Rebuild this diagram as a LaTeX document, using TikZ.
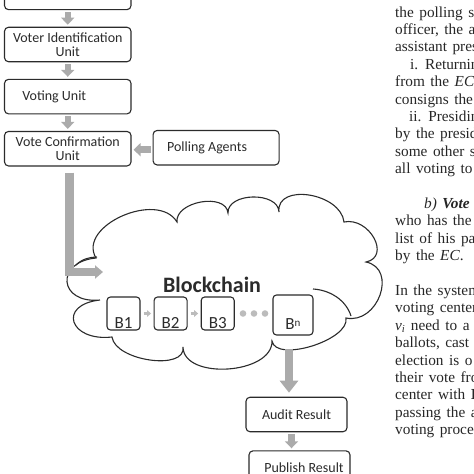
\documentclass[tikz,border=0pt]{standalone}
\usepackage{fontspec}
\setmainfont{Liberation Serif}
\newfontfamily\calibri{Carlito}
\usetikzlibrary{positioning, arrows.meta}

\definecolor{flowgray}{HTML}{ABABAB}
\definecolor{inkgray}{HTML}{2B2B2B}
\newcommand{\widespaces}{\spaceskip=0.36em plus 0.1em\relax}

\begin{document}
\begin{tikzpicture}[x=1pt, y=-1pt, node distance=16.5pt,
    unitbox/.style={draw=inkgray, line width=1.1pt, rounded corners=4pt, fill=white,
        minimum width=126.5pt, minimum height=34.5pt, inner sep=0pt, align=center,
        font=\calibri\fontsize{14}{13.5}\selectfont, text=inkgray},
    blockbox/.style={draw=inkgray, line width=1.1pt, rounded corners=3.5pt, fill=white,
        minimum size=33pt, inner sep=0pt, text height=29pt, text depth=0pt,
        font=\calibri\fontsize{17}{17}\selectfont, text=inkgray},
    flow/.style={draw=flowgray, line width=6.5pt, shorten <=2pt, shorten >=2pt,
        -{Triangle[length=7pt, width=13pt]}},
    bigflow/.style={draw=flowgray, line width=8.5pt, line join=miter},
    chainlink/.style={draw=flowgray!80, line width=2.5pt, shorten <=3pt, shorten >=2.5pt,
        -{Triangle[length=4pt, width=6.5pt]}},
    papertext/.style={anchor=base west, inner sep=0pt, text=black!85,
        font=\fontsize{15.3}{15.3}\selectfont\widespaces}]

    \useasboundingbox (0,0) rectangle (474,474);
    \clip (0,0) rectangle (474,474);

    % left column
    \node[unitbox]                           (voterid) at (67.75,44.5) {Voter Identification\\Unit};
    \node[unitbox, above=of voterid]         (entry)   {};
    \node[unitbox, below=of voterid]         (voting)  {Voting Unit\kern27pt};
    \node[unitbox, below=of voting]          (confirm) {Vote Confirmation\\Unit};
    \node[unitbox, minimum width=126pt, right=21pt of confirm, yshift=1pt] (agents) {Polling Agents\kern18pt};

    \draw[flow] (entry) -- (voterid);
    \draw[flow] (voterid) -- (voting);
    \draw[flow] (voting) -- (confirm);
    \draw[flow] ([yshift=-2pt]agents.west) -- ([yshift=-2pt]agents.west -| confirm.east);

    % cloud
    \draw[inkgray, line width=1.1pt, fill=white]
        (96,258) .. controls (76.7,226) and (157.7,190) .. (177,222)
        .. controls (175,201.3) and (226,192.3) .. (228,213)
        .. controls (227.3,192.3) and (278.3,191.3) .. (279,212)
        .. controls (275.7,182.7) and (340.7,192.7) .. (344,222)
        .. controls (369.3,216.7) and (391.3,256.7) .. (366,262)
        .. controls (398,268.7) and (378,324.7) .. (346,318)
        .. controls (350,340) and (276,363) .. (272,341)
        .. controls (272.7,374.3) and (183.7,380.3) .. (183,347)
        .. controls (186.3,371) and (115.3,361) .. (112,337)
        .. controls (69.3,341.7) and (57.3,304.7) .. (100,300)
        .. controls (58.7,304) and (54.7,262) .. (96,258) -- cycle;
    \draw[inkgray, line width=1.1pt] (313,289) .. controls (330,290) and (346,300) .. (351,316);
    \draw[inkgray, line width=1.1pt] (76,265) .. controls (82,259) and (90,257) .. (97,257);

    \coordinate (chainin) at (103,272);
    \draw[bigflow, -{Triangle[length=8pt, width=13pt]}] ([xshift=1.5pt, yshift=-6pt]confirm.south) |- (chainin);

    \node[font=\calibri\bfseries\fontsize{22}{22}\selectfont, text=inkgray] (chaintitle) at (212,285) {Blockchain};

    \node[blockbox]                     (b1) at (123.5,313.5) {B1};
    \node[blockbox, right=13pt of b1]   (b2) {B2};
    \node[blockbox, right=13pt of b2]   (b3) {B3};
    \node[blockbox, minimum size=40pt]  (bn) at (293,315) {B\raisebox{3pt}{\fontsize{11}{11}\selectfont n}};
    \draw[chainlink] (b1) -- (b2);
    \draw[chainlink] (b2) -- (b3);
    \foreach \x in {243,254,265}
        \fill[flowgray!80] (\x,313.5) circle (3.3pt);

    % results
    \node[unitbox, minimum width=101pt]                   (audit)   at (296.5,414.5) {Audit Result};
    \node[unitbox, minimum width=101pt, below=18pt of audit, xshift=3pt] (publish) {\kern9pt Publish Result};

    \draw[bigflow, -{Triangle[length=12pt, width=18pt]}] ([xshift=-4pt, yshift=-13pt]bn.south) -- ([xshift=-4pt, yshift=4pt]bn.south |- audit.north);
    \draw[flow] ([xshift=-5pt]audit.south) -- ([xshift=-5pt]audit.south |- publish.north);

    % running text of the page
    \node[papertext] (txta) at (395,17)    {the polling s};
    \node[papertext] (txtb) at (395,34.4)  {officer, the a};
    \node[papertext] (txtc) at (395,51.8)  {assistant pres};
    \node[papertext] (txtd) at (410,69.2)  {i. Returnin};
    \node[papertext] (txte) at (395,86.6)  {from the \textit{EC}};
    \node[papertext] (txtf) at (395,104)   {consigns the};
    \node[papertext] (txtg) at (409,121.4) {ii. Presidin};
    \node[papertext] (txth) at (395,138.8) {by the presid};
    \node[papertext] (txti) at (395,156.2) {some other s};
    \node[papertext] (txtj) at (395,173.6) {all voting to};
    \node[papertext] (txtk) at (424,208.4) {\textit{b)} \textbf{\textit{Vote}}};
    \node[papertext] (txtl) at (395,225.8) {who has the};
    \node[papertext] (txtm) at (395,243.2) {list of his pa};
    \node[papertext] (txtn) at (395,260.6) {by the \textit{EC}.};
    \node[papertext] (txto) at (395,295.4) {In the system};
    \node[papertext] (txtp) at (395,312.8) {voting center};
    \node[papertext] (txtq) at (395,330.2) {\textit{v}\textsubscript{\textit{i}} need to a};
    \node[papertext] (txtr) at (395,347.6) {ballots, cast};
    \node[papertext] (txts) at (395,365)   {election is o};
    \node[papertext] (txtt) at (395,382.4) {their vote fro};
    \node[papertext] (txtu) at (395,399.8) {center with \textbf{I}};
    \node[papertext] (txtv) at (395,417.2) {passing the a};
    \node[papertext] (txtw) at (395,434.6) {voting proces};
\end{tikzpicture}
\end{document}
